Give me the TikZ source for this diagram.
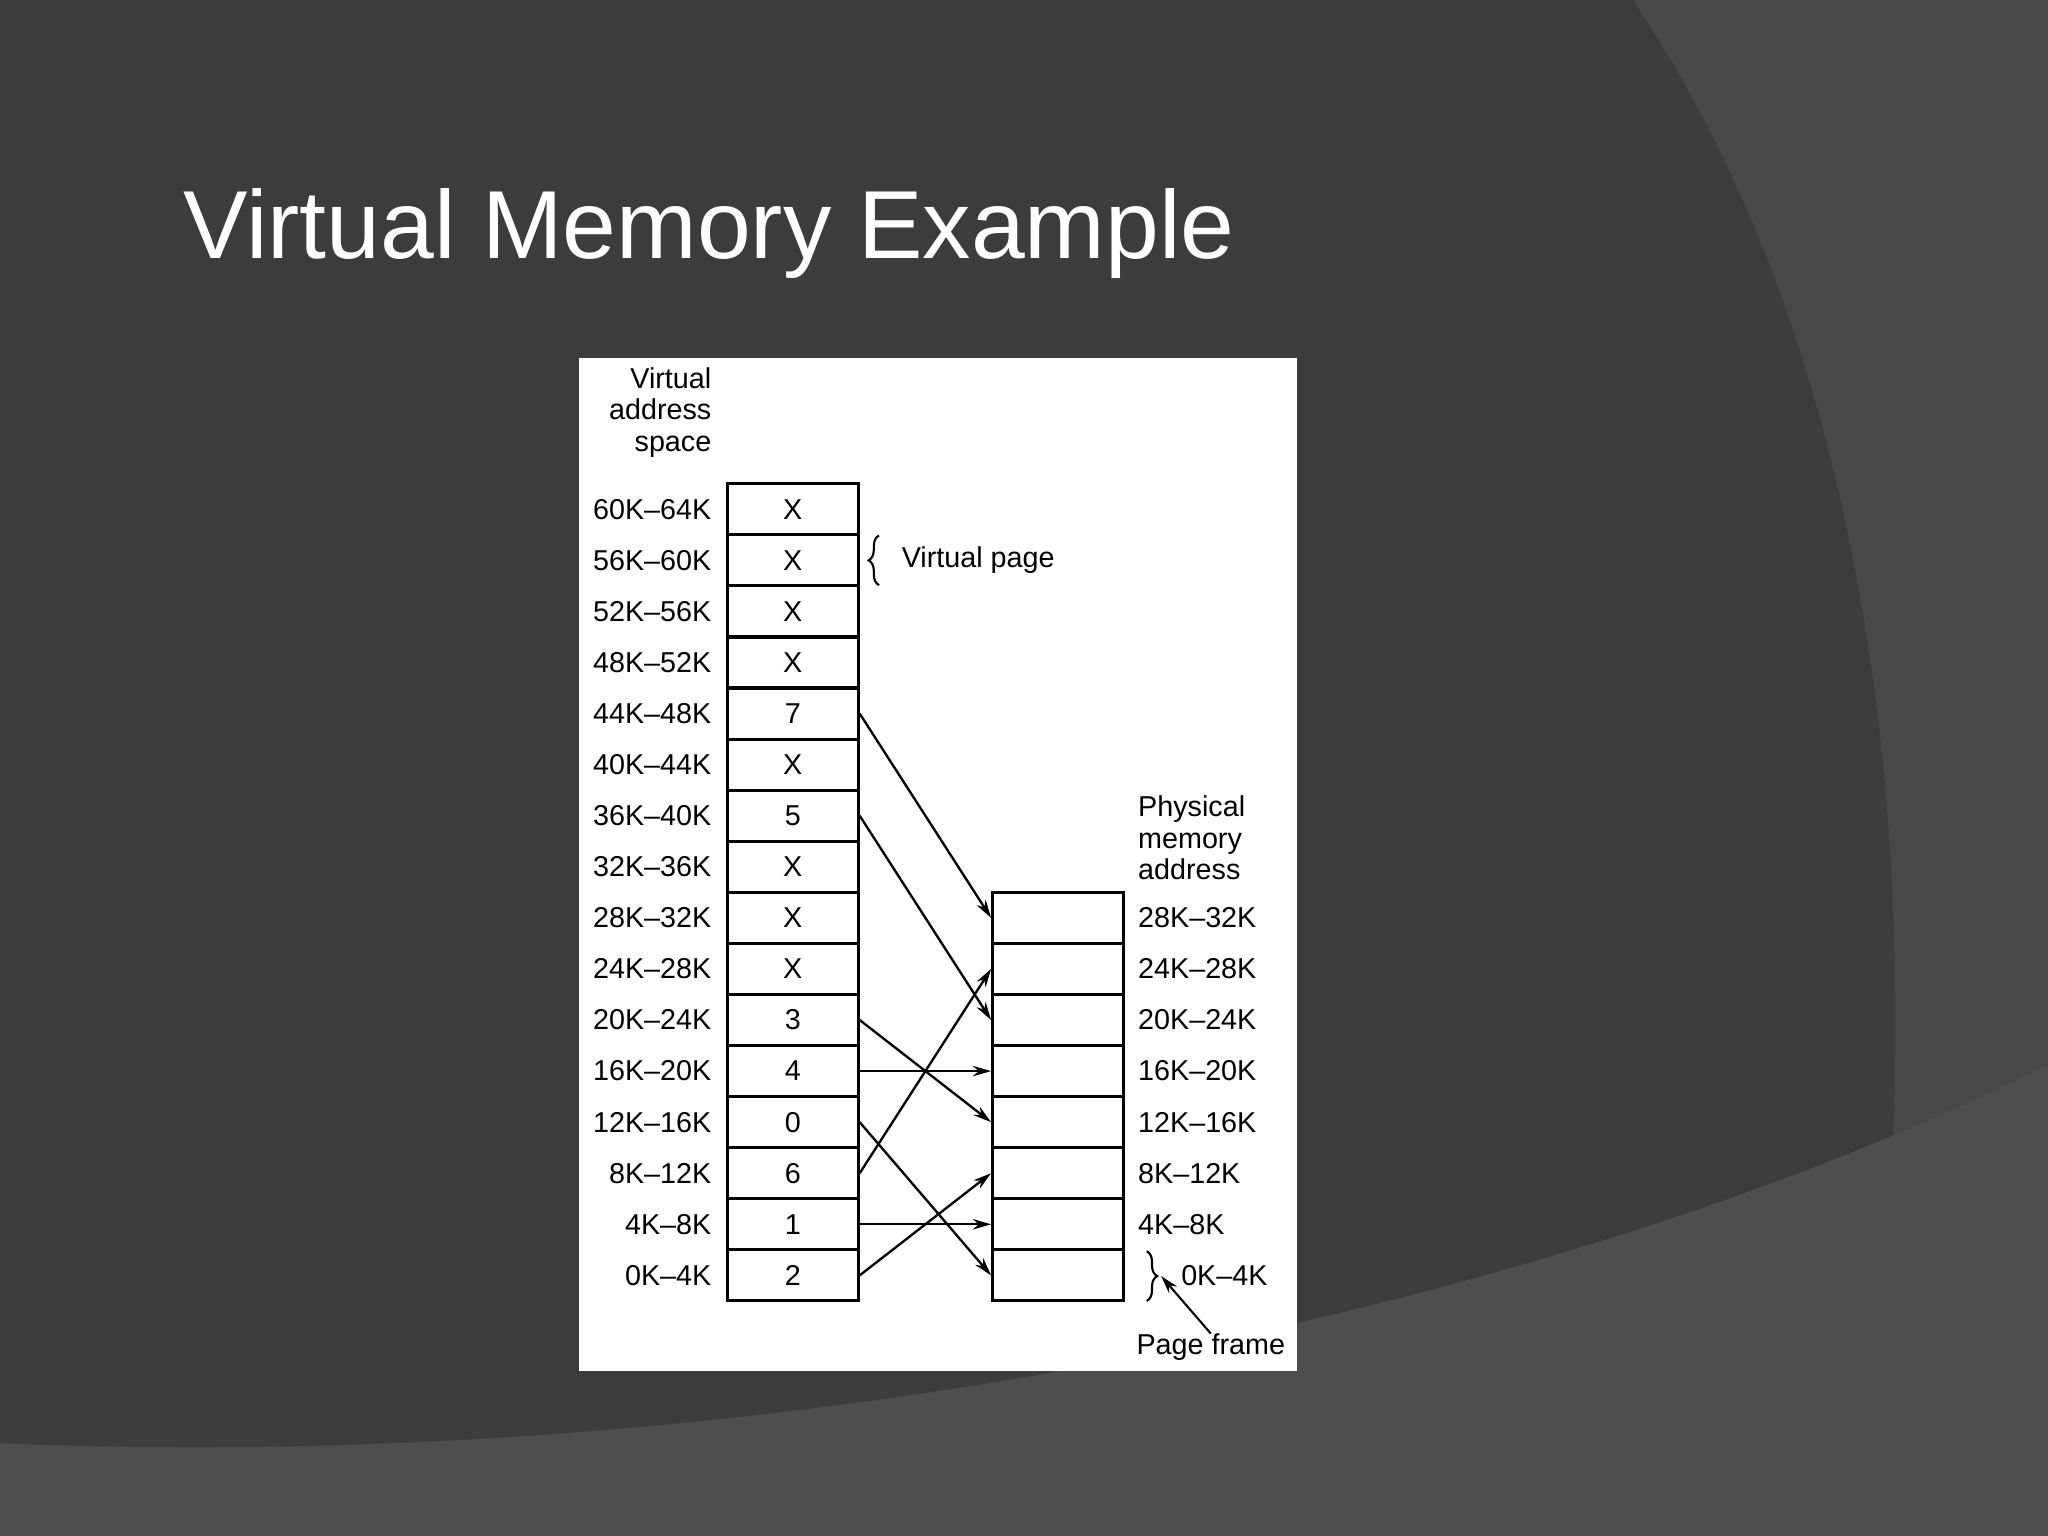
\documentclass[tikz,border=0pt]{standalone}
\usepackage{fontspec}
\setmainfont{Liberation Sans}
\usetikzlibrary{arrows.meta,decorations.pathreplacing}
\begin{document}
\begin{tikzpicture}[x=0.5pt,y=-0.5pt,
  cell/.style={draw,line width=1.2pt,minimum width=50pt,minimum height=19.55pt,inner sep=0,font=\fontsize{11}{12}\selectfont},
  lab/.style={font=\fontsize{11}{12}\selectfont,inner sep=0},
  map/.style={-{Stealth[length=7pt,width=4pt]},line width=0.9pt}]
\useasboundingbox (0,0) rectangle (1568,1176);
\fill[fill={rgb,255:red,60;green,60;blue,60}] (0,0) rectangle (1568,1176);
\fill[fill={rgb,255:red,72;green,72;blue,72}] (1250,0) .. controls (1420,250) and (1500,650) .. (1420,1176) -- (1568,1176) -- (1568,0) -- cycle;
\fill[fill={rgb,255:red,78;green,78;blue,78}] (0,1105) .. controls (600,1130) and (1200,1000) .. (1568,815) -- (1568,1176) -- (0,1176) -- cycle;
\node[anchor=base west,text=white,font=\fontsize{37}{40}\selectfont,inner sep=0] (title) at (140,198) {Virtual Memory Example};
\fill[white] (443,274) rectangle (993,1050);
\node[lab,align=right,anchor=north east] (vas) at (545,281) {Virtual\\address\\space};
\def\vals{{"2","1","6","0","4","3","X","X","X","5","X","7","X","X","X","X"}}
\def\vlabs{{"0K–4K","4K–8K","8K–12K","12K–16K","16K–20K","20K–24K","24K–28K","28K–32K","32K–36K","36K–40K","40K–44K","44K–48K","48K–52K","52K–56K","56K–60K","60K–64K"}}
\foreach \i in {0,...,15}{
  \pgfmathsetmacro\yy{996-19.55-\i*39.1}
  \pgfmathsetmacro\v{\vals[\i]}
  \pgfmathsetmacro\l{\vlabs[\i]}
  \node[cell] (v\i) at (607,\yy) {\v};
  \node[lab,anchor=east] (vl\i) at (545,\yy) {\l};
}
\node[lab,align=left,anchor=south west] (pma) at (871,674) {Physical\\memory\\address};
\foreach \i in {0,...,7}{
  \pgfmathsetmacro\yy{996-19.55-\i*39.1}
  \pgfmathsetmacro\l{\vlabs[\i]}
  \node[cell] (p\i) at (810,\yy) {};
  \ifnum\i>0 \node[lab,anchor=west] (pl\i) at (871,\yy) {\l}; \fi
}
\node[lab,anchor=west] (pl0) at (904,976.45) {0K–4K};
\draw[decorate,decoration={brace,amplitude=4pt},line width=0.8pt] (673,448) -- (673,410);
\node[lab,anchor=west] (vp) at (690,429) {Virtual page};
\draw[decorate,decoration={brace,amplitude=4pt},line width=0.8pt] (878,958) -- (878,996);
\node[lab,anchor=north] (pf) at (927,1021) {Page frame};
\coordinate (bt) at (889,977);
\draw[-{Stealth[length=7pt,width=4pt]},line width=0.8pt] (pf.north) -- (bt);
\draw[map] (v11.east) -- (p7.west);
\draw[map] (v9.east) -- (p5.west);
\draw[map] (v5.east) -- (p3.west);
\draw[map] (v4.east) -- (p4.west);
\draw[map] (v3.east) -- (p0.west);
\draw[map] (v2.east) -- (p6.west);
\draw[map] (v1.east) -- (p1.west);
\draw[map] (v0.east) -- (p2.west);
\end{tikzpicture}
\end{document}
